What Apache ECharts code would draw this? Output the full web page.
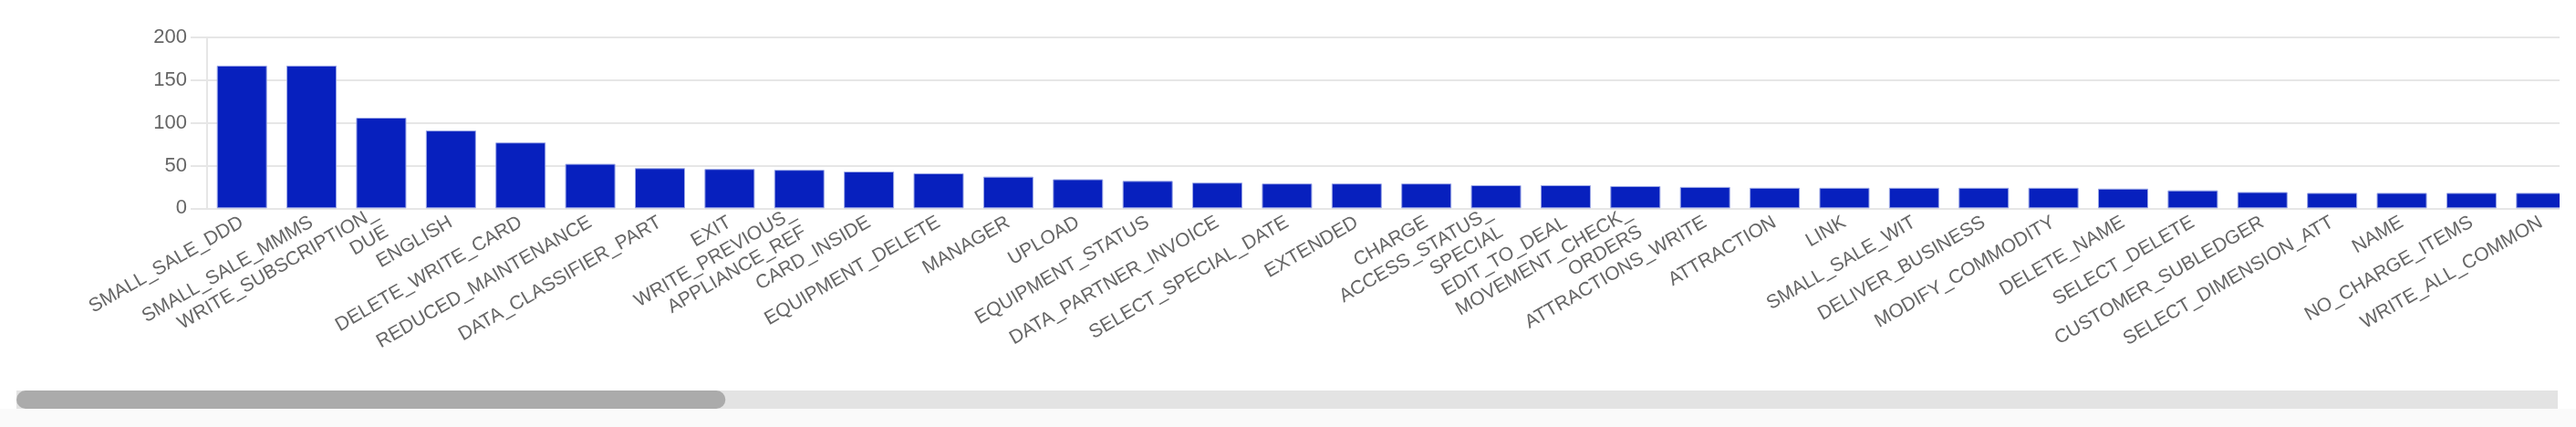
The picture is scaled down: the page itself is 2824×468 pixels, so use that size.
<!DOCTYPE html>
<html>
<head>
<meta charset="utf-8">
<script src="https://cdn.jsdelivr.net/npm/echarts@6/dist/echarts.min.js"></script>
<style>
    html, body { margin: 0; padding: 0; background: #fff; }
    #main { width: 2824px; height: 468px; }
</style>
</head>
<body>
<div id="main"></div>
<script>
// categories (first screen of the scrolled chart)
var categories = [
    'SMALL_SALE_DDD', 'SMALL_SALE_MMMS', 'WRITE_SUBSCRIPTION_DUE', 'ENGLISH',
    'DELETE_WRITE_CARD', 'REDUCED_MAINTENANCE', 'DATA_CLASSIFIER_PART', 'EXIT',
    'WRITE_PREVIOUS_APPLIANCE_REF', 'CARD_INSIDE', 'EQUIPMENT_DELETE', 'MANAGER',
    'UPLOAD', 'EQUIPMENT_STATUS', 'DATA_PARTNER_INVOICE', 'SELECT_SPECIAL_DATE',
    'EXTENDED', 'CHARGE', 'ACCESS_STATUS_SPECIAL', 'EDIT_TO_DEAL',
    'MOVEMENT_CHECK_ORDERS', 'ATTRACTIONS_WRITE', 'ATTRACTION', 'LINK',
    'SMALL_SALE_WIT', 'DELIVER_BUSINESS', 'MODIFY_COMMODITY', 'DELETE_NAME',
    'SELECT_DELETE', 'CUSTOMER_SUBLEDGER', 'SELECT_DIMENSION_ATT', 'NAME',
    'NO_CHARGE_ITEMS', 'WRITE_ALL_COMMON'
];
var counts = [
    167, 167, 106, 91, 77, 52, 47, 46, 45, 43, 41, 37, 34, 32, 30, 29, 29,
    29, 27, 27, 26, 25, 24, 24, 24, 24, 24, 23, 21, 19, 18, 18, 18, 18
];
var yTicks = { min: 0, max: 200, interval: 50 };
// share of the whole list that is visible (scroll thumb)
var visibleShare = 0.279;

function wrapLabel(s) {
    var parts = s.split('_'), lines = [], cur = '';
    parts.forEach(function (p) {
        if (cur && (cur + '_' + p).length > 20) { lines.push(cur + '_'); cur = p; }
        else { cur = cur ? cur + '_' + p : p; }
    });
    lines.push(cur);
    return lines.join('\n');
}

var gridCol = '#e6e6e6';
var trackX = 18, trackW = 2786;

var option = {
    animation: false,
    grid: { left: 227, right: -21, top: 41, bottom: 239.7, containLabel: false },
    xAxis: {
        type: 'category',
        data: categories,
        axisLine: { show: true, lineStyle: { color: gridCol, width: 2 } },
        axisTick: { show: false },
        splitLine: { show: false },
        axisLabel: {
            interval: 0,
            rotate: 30,
            margin: 14,
            color: '#666',
            fontSize: 21,
            lineHeight: 24,
            fontFamily: 'Liberation Sans, Arial, sans-serif',
            formatter: wrapLabel
        }
    },
    yAxis: {
        type: 'value',
        min: yTicks.min,
        max: yTicks.max,
        interval: yTicks.interval,
        axisLine: { show: true, lineStyle: { color: gridCol, width: 2 } },
        axisTick: { show: true, length: 18, lineStyle: { color: gridCol, width: 2 } },
        splitLine: { show: true, lineStyle: { color: gridCol, width: 2 } },
        axisLabel: {
            margin: 22,
            color: '#666',
            fontSize: 22,
            fontFamily: 'Liberation Sans, Arial, sans-serif'
        }
    },
    series: [{
        type: 'bar',
        data: counts,
        barWidth: 55,
        itemStyle: { color: '#0720be', borderColor: '#9aa6e6', borderWidth: 1 }
    }],
    graphic: [
        // white page margin on the right of the scroll box
        { type: 'rect', z: 100, shape: { x: 2806, y: 0, width: 18, height: 428 }, style: { fill: '#fff' } },
        // page background under the scroll bar
        { type: 'rect', z: 90, shape: { x: 0, y: 448, width: 2824, height: 20 }, style: { fill: '#fafafa' } },
        // scroll bar track and thumb
        { type: 'rect', z: 100, shape: { x: trackX, y: 428, width: trackW, height: 20 }, style: { fill: '#e3e3e3' } },
        { type: 'rect', z: 101, shape: { x: trackX, y: 428, width: trackW * visibleShare, height: 20, r: 10 }, style: { fill: '#ababab' } }
    ]
};

echarts.init(document.getElementById('main')).setOption(option);
</script>
</body>
</html>
